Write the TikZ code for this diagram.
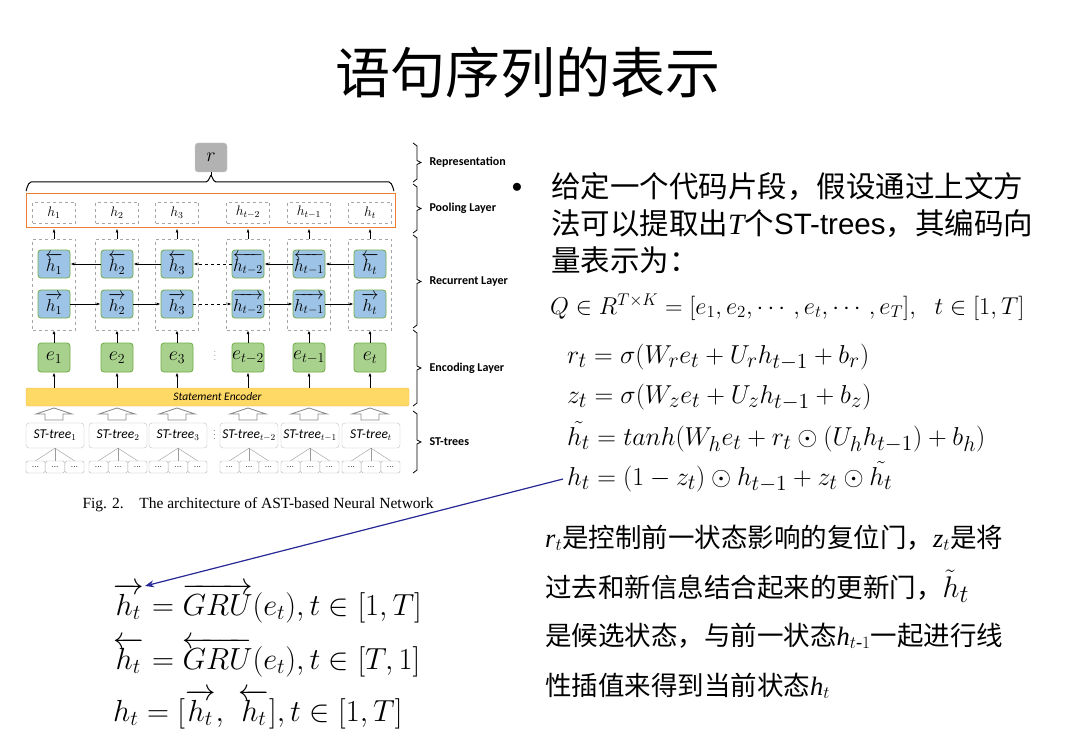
\documentclass[tikz,border=0pt]{standalone}
\usepackage{amsmath}
\usepackage{graphicx}
\usepackage{fontspec}
\newfontfamily\cjk{Noto Sans CJK SC}
\newfontfamily\carl{Carlito}
\newfontfamily\lsans{Liberation Sans}
\newfontfamily\lserif{Liberation Serif}
\usetikzlibrary{arrows.meta}
\definecolor{bfill}{RGB}{157,195,230}
\definecolor{gdraw}{RGB}{112,173,71}
\definecolor{gfill}{RGB}{169,209,142}
\definecolor{yfill}{RGB}{255,217,102}
\definecolor{ydraw}{RGB}{240,180,60}
\definecolor{orng}{RGB}{237,125,49}
\definecolor{arrblue}{RGB}{40,40,150}
\begin{document}
\begin{tikzpicture}[x=1pt,y=-1pt,
 dbox/.style={draw=gray!70,dashed,minimum width=43pt,inner sep=0pt},
 bbox/.style={draw=gdraw,fill=bfill,rounded corners=3pt,minimum width=32pt,minimum height=28pt,inner sep=0pt,line width=0.8pt,font=\fontsize{14.4}{14}\selectfont},
 gbox/.style={draw=gdraw,fill=gfill,rounded corners=3pt,minimum width=32pt,minimum height=29pt,inner sep=0pt,line width=0.8pt,font=\fontsize{17.28}{17}\selectfont},
 tbox/.style={draw=gray!50,rounded corners=3pt,minimum width=58pt,minimum height=25pt,inner sep=0pt,font=\carl\itshape\fontsize{13.5}{13}\selectfont},
 sbox/.style={draw=gray!60,rounded corners=1.5pt,minimum width=19pt,minimum height=12pt,inner sep=0pt,font=\fontsize{6}{6}\selectfont},
 lab/.style={anchor=west,font=\carl\bfseries\fontsize{12}{12}\selectfont},
 arr/.style={-{Latex[length=4pt,width=3pt]},line width=0.8pt},
 cn/.style={anchor=base west,inner sep=0pt},
 eq/.style={anchor=west,inner sep=0pt}]
\useasboundingbox[fill=white] (0,0) rectangle (1067,751);
\node[font=\cjk\fontsize{55}{55}\selectfont] (title) at (528,73) {语句序列的表示};
% top
\node[draw=gray!40,fill=gray!60,rounded corners=3pt,minimum width=32pt,minimum height=29pt,font=\fontsize{17.28}{17}\selectfont] (r) at (211,157.5) {\scalebox{1.15}{$r$}};
\draw[line width=1pt] (26,190) to[out=-90,in=180] (31,182) -- (206,182) to[out=0,in=90] (211,176) to[out=90,in=180] (216,182) -- (389,182) to[out=0,in=-90] (394,190);
\coordinate (bc) at (211,176);
\draw[line width=0.8pt] (r.south) -- (bc);
\node[draw=orng,line width=1pt,minimum width=369pt,minimum height=34pt,inner sep=0pt] (pool) at (210.5,211) {};
\node[fill=yfill,draw=ydraw,rounded corners=2pt,minimum width=383pt,minimum height=18pt,inner sep=0pt,font=\carl\itshape\fontsize{11.5}{11}\selectfont] (enc) at (217.5,397) {Statement Encoder};
\foreach \i/\x/\s/\sa in {1/54/1/1,2/117/2/2,3/177/3/3,4/248/{t-2}/{t-2},5/309/{t-1}/{t-1},6/370/t/t}{
 \node[dbox,minimum height=21pt,font=\fontsize{12}{12}\selectfont] (h\i) at (\x,212.5) {\scalebox{1.15}{$h_{\s}$}};
 \node[dbox,minimum height=91pt] (rc\i) at (\x,284.5) {};
 \node[bbox] (b\i) at (\x,264) {\scalebox{1.2}{$\overleftarrow{h_{\s}}$}};
 \node[bbox] (f\i) at (\x,304) {\scalebox{1.2}{$\overrightarrow{h_{\s}}$}};
 \node[gbox] (e\i) at (\x,357.5) {\scalebox{1.15}{$e_{\s}$}};
 \node[tbox] (t\i) at (\x+1,435.5) {ST-tree$_{\s}$};
 \foreach \k/\dx in {a/-19.5,b/0,c/19.5}{
  \node[sbox] (s\i\k) at (\x+1+\dx,467) {\textbf{...}};
  \draw[gray!80] (t\i.south) -- (s\i\k.north);}
 \draw[gray!90,line width=0.8pt,fill=white] (\x-9,420) -- (\x-9,414) -- (\x-18,414) -- (\x,408) -- (\x+18,414) -- (\x+9,414) -- (\x+9,420) -- cycle;
 \draw[arr] (enc.north -| e\i) -- (e\i.south);
 \draw[arr] (e\i.north) -- (rc\i.south);
 \draw[arr] (rc\i.north) -- (pool.south -| rc\i);
}
\foreach \a/\b in {1/2,2/3,4/5,5/6}{
 \draw[arr] (b\b.west) -- (b\a.east);
 \draw[arr] (f\a.east) -- (f\b.west);}
\draw[arr,dashed] (b4.west) -- (b3.east);
\draw[arr,dashed] (f3.east) -- (f4.west);
\node[font=\fontsize{7}{7}\selectfont] (d1) at (215,353) {$\vdots$};
\node[font=\fontsize{9}{9}\selectfont] (d2) at (214.5,432) {$\vdots$};
% right braces
\foreach \n/\ya/\yb/\txt in {1/143/182/Representation,2/184/233/Pooling Layer,3/235/328/Recurrent Layer,4/330/406/Encoding Layer,5/411/473/ST-trees}{
 \draw[line width=0.8pt] (413,\ya) -- (417,\ya+3) -- (417,{(\ya+\yb)/2-2}) -- (421,{(\ya+\yb)/2}) -- (417,{(\ya+\yb)/2+2}) -- (417,\yb-3) -- (413,\yb);
 \node[lab] (L\n) at (426,{(\ya+\yb)/2}) {\txt};}
\node[anchor=west,font=\lserif\fontsize{15.5}{15}\selectfont] (cap) at (79,505) {Fig. 2.\quad The architecture of AST-based Neural Network};
% right text
\node[font=\fontsize{22}{22}\selectfont] (bul) at (517,188) {$\bullet$};
\node[cn,font=\cjk\fontsize{29.5}{29}\selectfont] (p1) at (551,198) {给定一个代码片段，假设通过上文方};
\node[cn,font=\cjk\fontsize{29.5}{29}\selectfont] (p2) at (551,235) {法可以提取出{\lserif\itshape T}个{\lsans ST-trees}，其编码向};
\node[cn,font=\cjk\fontsize{29.5}{29}\selectfont] (p3) at (551,271) {量表示为：};
\node[eq,font=\fontsize{20.74}{20}\selectfont] (q) at (550,307) {\scalebox{1.175}{$Q\in R^{T\times K}=[e_1,e_2,\cdots,e_t,\cdots,e_T],\ \ t\in[1,T]$}};
\node[eq,font=\fontsize{19}{19}\selectfont] (g1) at (567,357) {\scalebox{1.5}{$r_t=\sigma(W_re_t+U_rh_{t-1}+b_r)$}};
\node[eq,font=\fontsize{19}{19}\selectfont] (g2) at (567,397) {\scalebox{1.5}{$z_t=\sigma(W_ze_t+U_zh_{t-1}+b_z)$}};
\node[eq,font=\fontsize{19}{19}\selectfont] (g3) at (567,437) {\scalebox{1.5}{$\tilde{h_t}=tanh(W_he_t+r_t\odot(U_hh_{t-1})+b_h)$}};
\node[eq,font=\fontsize{19}{19}\selectfont] (g4) at (567,477) {\scalebox{1.5}{$h_t=(1-z_t)\odot h_{t-1}+z_t\odot\tilde{h_t}$}};
\node[cn,font=\cjk\fontsize{26.5}{26}\selectfont] (c1) at (545,547) {{\lserif\itshape r$_t$}是控制前一状态影响的复位门，{\lserif\itshape z$_t$}是将};
\node[cn,font=\cjk\fontsize{26.5}{26}\selectfont] (c2) at (545,597) {过去和新信息结合起来的更新门，{\fontsize{24.88}{25}\selectfont\scalebox{1.2}{$\tilde{h}_t$}}};
\node[cn,font=\cjk\fontsize{26.5}{26}\selectfont] (c3) at (545,645) {是候选状态，与前一状态{\lserif\itshape h$_{t\text{-}1}$}一起进行线};
\node[cn,font=\cjk\fontsize{26.5}{26}\selectfont] (c4) at (545,695) {性插值来得到当前状态{\lserif\itshape h$_t$}};
% bottom-left
\node[eq,font=\fontsize{22}{22}\selectfont] (l1) at (113,603) {\scalebox{1.47}{$\overrightarrow{h_t}=\overrightarrow{GRU}(e_t),t\in[1,T]$}};
\node[eq,font=\fontsize{22}{22}\selectfont] (l2) at (113,657) {\scalebox{1.47}{$\overleftarrow{h_t}=\overleftarrow{GRU}(e_t),t\in[T,1]$}};
\node[eq,font=\fontsize{22}{22}\selectfont] (l3) at (113,709) {\scalebox{1.47}{$h_t=[\overrightarrow{h_t},\ \overleftarrow{h_t}],t\in[1,T]$}};
\coordinate (as) at (563,479);
\coordinate (ae) at (145,586);
\draw[arrblue,line width=1.2pt,-{Stealth[length=9pt,width=7pt]}] (as) -- (ae);
\end{tikzpicture}
\end{document}
